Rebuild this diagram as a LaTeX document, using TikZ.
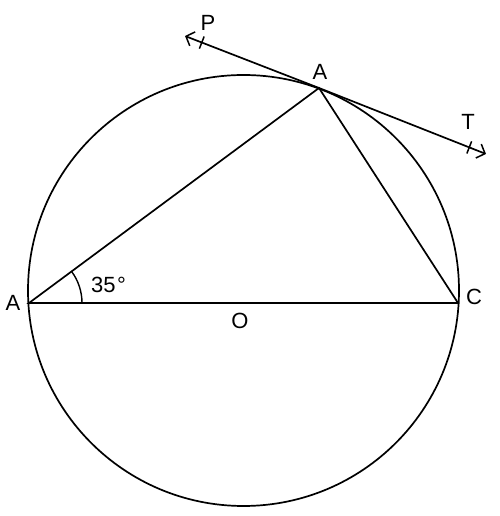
\documentclass[tikz,border=0pt]{standalone}
\usepackage{fontspec}
\setmainfont{Liberation Sans}
\usetikzlibrary{arrows.meta,calc,angles}
\begin{document}
\begin{tikzpicture}[x=1pt,y=1pt,
  geo/.style={line width=1.7pt,black},
  lbl/.style={font=\fontsize{22}{26}\selectfont,inner sep=0pt},
  tickmark/.style={line width=1.5pt},
  barb/.style={-{Straight Barb[length=7pt,width=15pt,line width=1.5pt]}}]
\useasboundingbox (0,0) rectangle (499,516);
\coordinate (O) at (243.5,225.5);
\coordinate (A1) at (29,213);
\coordinate (C) at (458,213);
\coordinate (A2) at (319,428);
\coordinate (Pe) at (185,480);
\coordinate (Te) at (486,362);
% circle
\draw[geo] (O) circle[radius=215.5];
% triangle
\draw[geo] (A1) -- (C) -- (A2) -- cycle;
% tangent line
\draw[geo,barb] (A2) -- (Pe);
\draw[geo,barb] (A2) -- (Te);
% ticks
\coordinate (tp) at ($(Pe)!18pt!(Te)$);
\coordinate (tt) at ($(Te)!18pt!(Pe)$);
\draw[tickmark] ($(tp)!6.5pt!90:(Te)$) -- ($(tp)!6.5pt!-90:(Te)$);
\draw[tickmark] ($(tt)!6.5pt!90:(Pe)$) -- ($(tt)!6.5pt!-90:(Pe)$);
% angle
\pic[draw,line width=1.4pt,angle radius=53pt] {angle = C--A1--A2};
% labels
\node[lbl] (lP) at (208,493) {P};
\node[lbl] (lA2) at (320,444) {A};
\node[lbl] (lT) at (468,394) {T};
\node[lbl] (lA1) at (13,213) {A};
\node[lbl] (lC) at (474,219) {C};
\node[lbl] (lO) at (240,195) {O};
\node[lbl] (lang) at (108.5,231) {35\kern1.5pt°};
\end{tikzpicture}
\end{document}
